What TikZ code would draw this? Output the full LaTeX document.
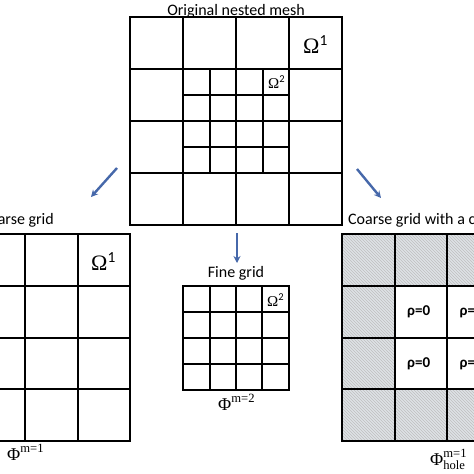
\documentclass[tikz,border=0pt]{standalone}
\usepackage{amsmath}
\usepackage{fontspec}
\setmainfont{Liberation Serif}
\newfontfamily\lblfont{Carlito}
\usetikzlibrary{arrows.meta, positioning, patterns}
\definecolor{arrowblue}{RGB}{70,104,170}
\definecolor{hatchgray}{RGB}{222,226,230}

\begin{document}
\begin{tikzpicture}[x=1pt, y=-1pt,
  gridline/.style = {line width=2pt, line cap=rect},
  fineline/.style = {line width=1.5pt, line cap=rect},
  hatched/.style = {preaction={fill=hatchgray}, pattern=north west lines, pattern color=gray!50},
  caption/.style = {font=\lblfont\fontsize{16}{18}\selectfont, inner sep=0pt},
  rhocell/.style = {font=\lblfont\bfseries\fontsize{15}{17}\selectfont, inner sep=0pt},
  bigomega/.style = {font=\fontsize{22}{24}\selectfont, inner sep=0pt},
  smallomega/.style = {font=\fontsize{15}{17}\selectfont, inner sep=0pt},
  philabel/.style = {font=\fontsize{18}{20}\selectfont, inner sep=0pt},
  move/.style = {-{Stealth[length=7pt, width=7pt]}, arrowblue, line width=2.4pt}]

\useasboundingbox (0,0) rectangle (474,474);

% original nested mesh
\foreach \x in {130,183,236,289,342}
  \draw[gridline] (\x,17) -- (\x,225);
\foreach \y in {17,69,121,173,225}
  \draw[gridline] (130,\y) -- (342,\y);
\foreach \x in {210,263}
  \draw[gridline] (\x,69) -- (\x,173);
\foreach \y in {95,147}
  \draw[gridline] (183,\y) -- (289,\y);
\node[caption, anchor=base]           (origlbl)  at (236,15)  {Original nested mesh};
\node[bigomega, anchor=base west]     (omegaA)   at (303,53)  {Ω\textsuperscript{\lblfont 1}};
\node[smallomega, anchor=base west]   (omegaB)   at (268,88)  {Ω\textsuperscript{\lblfont 2}};

% coarse grid
\foreach \x in {-80,-27,25,78,130}
  \draw[gridline] (\x,234) -- (\x,441);
\foreach \y in {234,286,338,389,441}
  \draw[gridline] (-80,\y) -- (130,\y);
\node[caption, anchor=base east]      (coarselbl) at (54,224)  {Coarse grid};
\node[bigomega, anchor=base west]     (omegaC)    at (91,270)  {Ω\textsuperscript{\lblfont 1}};
\node[philabel, anchor=base west]     (phiA)      at (7,460)   {$\text{Φ}^{\text{m=1}}$};

% fine grid
\foreach \x in {183,210,236,262,289}
  \draw[fineline] (\x,286) -- (\x,390);
\foreach \y in {286,312,338,364,390}
  \draw[fineline] (183,\y) -- (289,\y);
\node[caption, anchor=base]           (finelbl)  at (236,277) {Fine grid};
\node[smallomega, anchor=base west]   (omegaD)   at (267,306) {Ω\textsuperscript{\lblfont 2}};
\node[philabel, anchor=base west]     (phiB)     at (218,410) {$\text{Φ}^{\text{m=2}}$};

% coarse grid with a hole
\foreach \c/\r in {0/0,1/0,2/0,3/0,0/1,3/1,0/2,3/2,0/3,1/3,2/3,3/3}
  \fill[hatched] ({342+52.5*\c},{234+51.75*\r}) rectangle ++(52.5,51.75);
\foreach \x in {342,395,447,500,552}
  \draw[gridline] (\x,234) -- (\x,441);
\foreach \y in {234,286,338,389,441}
  \draw[gridline] (342,\y) -- (552,\y);
\foreach \c in {1,2}
  \foreach \r in {1,2}
    \node[rhocell] (rho\c\r) at ({342+52.5*(\c+0.5)-2},{234+51.75*(\r+0.5)}) {ρ=0};
\node[caption, anchor=base west]      (holelbl)  at (348,224) {Coarse grid with a c};
\node[philabel, anchor=base west]     (phiC)     at (430,465) {$\text{Φ}^{\text{m=1}}_{\text{hole}}$};

% arrows
\coordinate (fromL)   at (117,168);
\coordinate (toL)     at (91,197);
\coordinate (fromR)   at (357,169);
\coordinate (toR)     at (381,198);
\coordinate (fromM)   at (237,233);
\coordinate (toM)     at (237,263);
\draw[move] (fromL) -- (toL);
\draw[move] (fromR) -- (toR);
\draw[move, line width=1.6pt] (fromM) -- (toM);

\end{tikzpicture}
\end{document}
